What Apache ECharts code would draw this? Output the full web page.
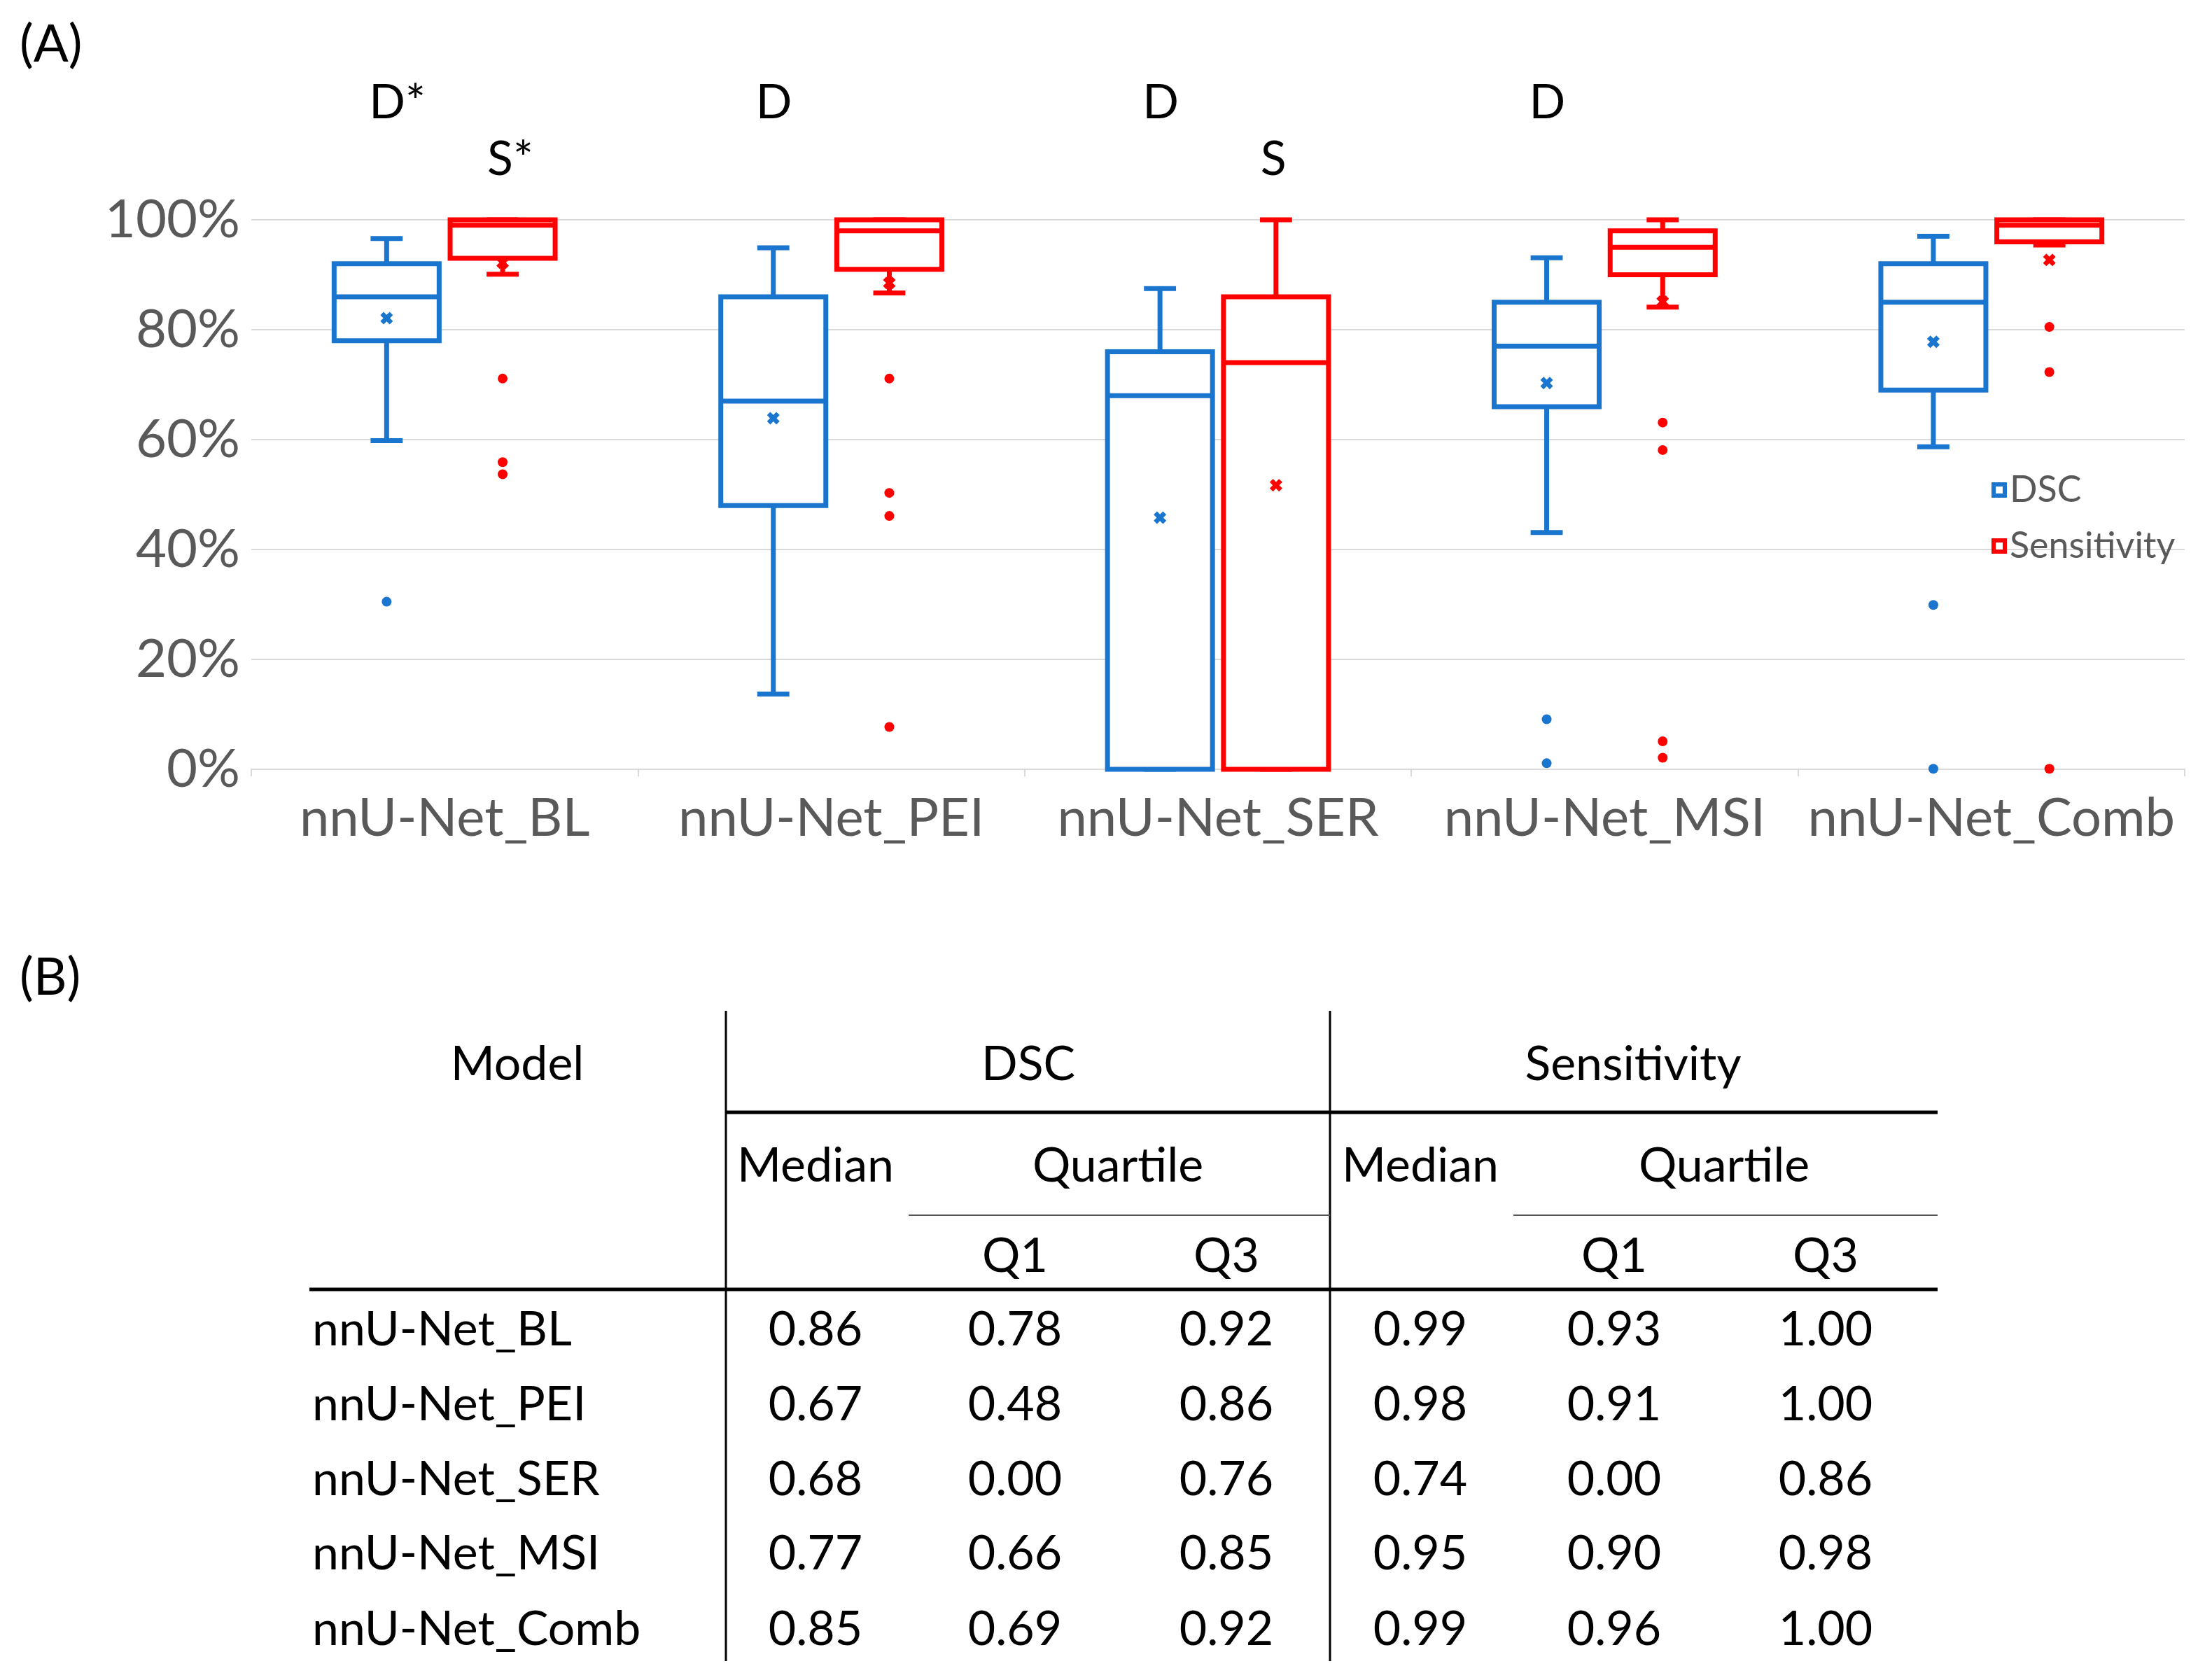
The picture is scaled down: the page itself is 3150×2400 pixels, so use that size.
<!DOCTYPE html>
<html>
<head>
<meta charset="utf-8">
<script src="https://cdn.jsdelivr.net/npm/echarts@6/dist/echarts.min.js"></script>
<style>
  html, body { margin: 0; padding: 0; background: #fff; }
  #main { width: 3150px; height: 2400px; }
</style>
</head>
<body>
<div id="main"></div>
<script>
// categories and values
var categories = ['nnU-Net_BL', 'nnU-Net_PEI', 'nnU-Net_SER', 'nnU-Net_MSI', 'nnU-Net_Comb'];

var dscMedian = [0.86, 0.67, 0.68, 0.77, 0.85];
var dscQ1 = [0.78, 0.48, 0.00, 0.66, 0.69];
var dscQ3 = [0.92, 0.86, 0.76, 0.85, 0.92];
var sensMedian = [0.99, 0.98, 0.74, 0.95, 0.99];
var sensQ1 = [0.93, 0.91, 0.00, 0.90, 0.96];
var sensQ3 = [1.00, 1.00, 0.86, 0.98, 1.00];

var dscLow = [0.598, 0.137, 0.0, 0.431, 0.587];
var dscHigh = [0.966, 0.949, 0.875, 0.931, 0.970];
var sensLow = [0.901, 0.867, 0.0, 0.841, 0.954];
var sensHigh = [1.0, 1.0, 1.0, 1.0, 1.0];

var dscMean = [0.821, 0.639, 0.458, 0.703, 0.778];
var sensMean = [0.922, 0.885, 0.517, 0.851, 0.927];

var dscOutliers = [[0.305], [], [], [0.091, 0.011], [0.299, 0.001]];
var sensOutliers = [[0.711, 0.559, 0.537], [0.711, 0.503, 0.461, 0.077], [], [0.631, 0.581, 0.051, 0.021], [0.805, 0.723, 0.001]];

var dscNotes = ['D*', 'D', 'D', 'D', ''];
var sensNotes = ['S*', '', 'S', '', ''];

var yTicks = [0, 0.2, 0.4, 0.6, 0.8, 1.0];

var BLUE = '#1a75cf';
var RED = '#ff0000';
var FONT = 'Lato';

var myChart = echarts.init(document.getElementById('main'));

var gridLeft = 359, gridRight = 29, gridTop = 314, gridBottom = 1301;
var band = (3150 - gridLeft - gridRight) / categories.length;
var shift = band * 0.15;

function boxData(low, q1, med, q3, high) {
    return categories.map(function (c, i) {
        return [i, low[i], q1[i], med[i], q3[i], high[i]];
    });
}

function pointData(list) {
    var out = [];
    list.forEach(function (vals, i) {
        vals.forEach(function (v) { out.push([i, v]); });
    });
    return out;
}

function boxRenderer(side, color) {
    return function (params, api) {
        var i = api.value(0);
        var bw = api.size([1, 0])[0];
        var cx = api.coord([i, 0])[0] + side * bw * 0.15;
        var w = bw * 0.2716;
        var cap = bw * 0.083;
        var yLow = api.coord([i, api.value(1)])[1];
        var yQ1 = api.coord([i, api.value(2)])[1];
        var yMed = api.coord([i, api.value(3)])[1];
        var yQ3 = api.coord([i, api.value(4)])[1];
        var yHigh = api.coord([i, api.value(5)])[1];
        var st = { stroke: color, lineWidth: 7, fill: null };
        return {
            type: 'group',
            children: [
                { type: 'line', shape: { x1: cx, y1: yQ3, x2: cx, y2: yHigh }, style: st },
                { type: 'line', shape: { x1: cx - cap / 2, y1: yHigh, x2: cx + cap / 2, y2: yHigh }, style: st },
                { type: 'line', shape: { x1: cx, y1: yQ1, x2: cx, y2: yLow }, style: st },
                { type: 'line', shape: { x1: cx - cap / 2, y1: yLow, x2: cx + cap / 2, y2: yLow }, style: st },
                { type: 'rect', shape: { x: cx - w / 2, y: yQ3, width: w, height: yQ1 - yQ3 }, style: { stroke: color, lineWidth: 7, fill: '#fff' } },
                { type: 'line', shape: { x1: cx - w / 2, y1: yMed, x2: cx + w / 2, y2: yMed }, style: st }
            ]
        };
    };
}

// bold "x" marker used for the means
var crossPath = 'path://M2.6,0 L5,2.4 L7.4,0 L10,2.6 L7.6,5 L10,7.4 L7.4,10 L5,7.6 L2.6,10 L0,7.4 L2.4,5 L0,2.6 Z';

// table (B)
var tableModels = categories;
var tableCols = [dscMedian, dscQ1, dscQ3, sensMedian, sensQ1, sensQ3];
var colX = [1165, 1450, 1752, 2029, 2306, 2608];
var rowY = [1900, 2007, 2114, 2220, 2328];

var graphics = [];
function txt(s, x, y, align, size, color) {
    graphics.push({
        type: 'text', x: x, y: y,
        style: {
            text: s, fontSize: size || 68, fontFamily: FONT, fill: color || '#000',
            align: align || 'center', verticalAlign: 'middle',
            textAlign: align || 'center', textVerticalAlign: 'middle'
        }
    });
}
function line(x1, y1, x2, y2, w, color) {
    graphics.push({
        type: 'line', shape: { x1: x1, y1: y1, x2: x2, y2: y2 },
        style: { stroke: color || '#000', lineWidth: w }
    });
}

txt('(A)', 28, 64, 'left', 74);
txt('(B)', 28, 1397, 'left', 74);

line(1037, 1444, 1037, 2373, 3);
line(1900, 1444, 1900, 2373, 3);
line(1037, 1589, 2768, 1589, 5);
line(1298, 1736, 1900, 1736, 2, '#555');
line(2162, 1736, 2768, 1736, 2, '#555');
line(442, 1842, 2768, 1842, 5);

txt('Model', 739, 1521);
txt('DSC', 1469, 1521);
txt('Sensitivity', 2333, 1521);
txt('Median', 1165, 1666);
txt('Quartile', 1597, 1666);
txt('Median', 2029, 1666);
txt('Quartile', 2463, 1666);
txt('Q1', 1450, 1795);
txt('Q3', 1752, 1795);
txt('Q1', 2306, 1795);
txt('Q3', 2608, 1795);

tableModels.forEach(function (m, r) {
    txt(m, 446, rowY[r], 'left');
    tableCols.forEach(function (col, c) {
        txt(col[r].toFixed(2), colX[c], rowY[r]);
    });
});

var option = {
    backgroundColor: '#fff',
    animation: false,
    textStyle: { fontFamily: FONT },
    grid: { left: gridLeft, right: gridRight, top: gridTop, bottom: gridBottom, containLabel: false },
    legend: {
        orient: 'vertical',
        left: 2845,
        top: 674,
        padding: 0,
        itemGap: 28,
        itemWidth: 16,
        itemHeight: 16,
        textStyle: { fontSize: 52, color: '#595959', fontFamily: FONT, padding: [0, 0, 0, 2] },
        data: [
            { name: 'DSC', icon: 'rect', itemStyle: { color: '#fff', borderColor: BLUE, borderWidth: 6 } },
            { name: 'Sensitivity', icon: 'rect', itemStyle: { color: '#fff', borderColor: RED, borderWidth: 6 } }
        ]
    },
    xAxis: {
        type: 'category',
        data: categories,
        axisLine: { lineStyle: { color: '#d9d9d9', width: 2 } },
        axisTick: { show: true, length: 10, lineStyle: { color: '#d9d9d9', width: 2 } },
        axisLabel: { interval: 0, fontSize: 76, color: '#595959', fontFamily: FONT, margin: 32 },
        splitLine: { show: false }
    },
    yAxis: {
        type: 'value',
        min: yTicks[0],
        max: yTicks[yTicks.length - 1],
        interval: 0.2,
        axisLine: { show: false },
        axisTick: { show: false },
        axisLabel: {
            fontSize: 76, color: '#595959', fontFamily: FONT, margin: 16,
            formatter: function (v) { return Math.round(v * 100) + '%'; }
        },
        splitLine: { lineStyle: { color: '#d9d9d9', width: 2 } }
    },
    series: [
        {
            name: 'DSC', type: 'custom', clip: false,
            itemStyle: { color: BLUE },
            encode: { x: 0, y: [1, 2, 3, 4, 5] },
            renderItem: boxRenderer(-1, BLUE),
            data: boxData(dscLow, dscQ1, dscMedian, dscQ3, dscHigh)
        },
        {
            name: 'Sensitivity', type: 'custom', clip: false,
            itemStyle: { color: RED },
            encode: { x: 0, y: [1, 2, 3, 4, 5] },
            renderItem: boxRenderer(1, RED),
            data: boxData(sensLow, sensQ1, sensMedian, sensQ3, sensHigh)
        },
        {
            name: 'DSC outliers', type: 'scatter', clip: false,
            symbol: 'circle', symbolSize: 14, symbolOffset: [-shift, 0],
            itemStyle: { color: BLUE, opacity: 1 },
            data: pointData(dscOutliers)
        },
        {
            name: 'Sensitivity outliers', type: 'scatter', clip: false,
            symbol: 'circle', symbolSize: 14, symbolOffset: [shift, 0],
            itemStyle: { color: RED, opacity: 1 },
            data: pointData(sensOutliers)
        },
        {
            name: 'DSC mean', type: 'scatter', clip: false,
            symbol: crossPath, symbolSize: 18, symbolOffset: [-shift, 0],
            itemStyle: { color: BLUE, opacity: 1 },
            data: dscMean.map(function (v, i) { return [i, v]; })
        },
        {
            name: 'Sensitivity mean', type: 'scatter', clip: false,
            symbol: crossPath, symbolSize: 18, symbolOffset: [shift, 0],
            itemStyle: { color: RED, opacity: 1 },
            data: sensMean.map(function (v, i) { return [i, v]; })
        },
        {
            // significance letters above the boxes
            name: 'notes', type: 'custom', clip: false, silent: true,
            encode: { x: 0, y: 1 },
            data: categories.map(function (c, i) { return [i, 1]; }),
            renderItem: function (params, api) {
                var i = api.value(0);
                var bw = api.size([1, 0])[0];
                var p = api.coord([i, 1]);
                var st = { fontSize: 68, fontFamily: FONT, fill: '#000', align: 'left', verticalAlign: 'middle' };
                return {
                    type: 'group',
                    children: [
                        { type: 'text', x: p[0] - bw * 0.15 - 25, y: p[1] - 167, style: Object.assign({ text: dscNotes[i] }, st) },
                        { type: 'text', x: p[0] + bw * 0.15 - 22, y: p[1] - 86, style: Object.assign({ text: sensNotes[i] }, st) }
                    ]
                };
            }
        }
    ],
    graphic: graphics
};

myChart.setOption(option);
</script>
</body>
</html>
